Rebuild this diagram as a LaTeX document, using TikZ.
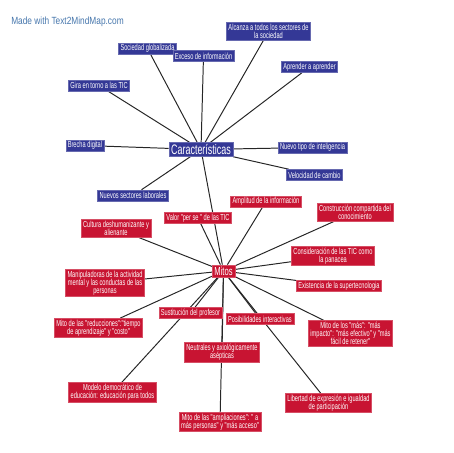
\documentclass[tikz,border=0pt]{standalone}
\usepackage{fontspec}
\usetikzlibrary{backgrounds}
\newfontfamily\mapfont{Liberation Sans}[FakeStretch=0.65]
\newfontfamily\markfont{Liberation Sans}[FakeStretch=0.8]
\newcommand\leaffont{\mapfont\fontsize{6.2}{5.8}\selectfont\lineskiplimit=-5pt}
\definecolor{MB}{RGB}{52,56,150}
\definecolor{MR}{RGB}{200,20,50}
\definecolor{WM}{RGB}{70,118,172}

\begin{document}
\begin{tikzpicture}[x=0.025cm, y=-0.025cm,
  hub/.style={fill=#1, draw=#1!75!white, line width=0.4pt, text=white,
              inner xsep=1.6pt, inner ysep=1.3pt, align=center},
  leaf/.style={fill=#1, draw=#1!75!white, line width=0.4pt, text=white,
               inner xsep=1.4pt, inner ysep=1.1pt, minimum height=7.8pt,
               align=center, font=\leaffont},
  edge/.style={draw=black!85, line width=0.7pt}
]
\useasboundingbox (0,0) rectangle (453,453);

% Watermark
\node[anchor=west, inner sep=0pt, text=WM, font=\markfont\fontsize{7.4}{8}\selectfont]
  (mark) at (11,22) {Made with Text2MindMap.com};

% Hub 1: Caracteristicas
\node[hub=MB, font=\mapfont\fontsize{9.8}{10}\selectfont] (car) at (201,149.5) {Características};
\node[leaf=MB] (soc)    at (147.5,48.5) {Sociedad globalizada};
\node[leaf=MB] (exc)    at (203.5,56)   {Exceso de información};
\node[leaf=MB] (alc)    at (268.5,31.5) {Alcanza a todos los sectores de\\la sociedad};
\node[leaf=MB] (apr)    at (309.5,67)   {Aprender a aprender};
\node[leaf=MB] (gira)   at (99,85.5)    {Gira en torno a las TIC};
\node[leaf=MB] (brecha) at (85,145.5)   {Brecha digital};
\node[leaf=MB] (nsl)    at (133,195.5)  {Nuevos sectores laborales};
\node[leaf=MB] (nti)    at (312.5,147.5){Nuevo tipo de inteligencia};
\node[leaf=MB] (vel)    at (314.5,175)  {Velocidad de cambio};

% Hub 2: Mitos
\node[hub=MR, font=\mapfont\fontsize{8.3}{9}\selectfont] (mit) at (223.5,271) {Mitos};
\node[leaf=MR] (amp)    at (266,201.5)  {Amplitud de la información};
\node[leaf=MR] (cons)   at (355,212)    {Construcción compartida del\\conocimiento};
\node[leaf=MR] (valor)  at (198,218)    {Valor "per se " de las TIC};
\node[leaf=MR] (cult)   at (116,228.5)  {Cultura deshumanizante y\\alienante};
\node[leaf=MR] (consid) at (333,256)    {Consideración de las TIC como\\la panacea};
\node[leaf=MR] (exist)  at (339,286)    {Existencia de la supertecnologia};
\node[leaf=MR] (manip)  at (105,283)    {Manipuladoras de la actividad\\mental y las conductas de las\\personas};
\node[leaf=MR] (sust)   at (190.5,313)  {Sustitución del profesor};
\node[leaf=MR] (posib)  at (260,319)    {Posibilidades interactivas};
\node[leaf=MR] (reduc)  at (98.5,328)   {Mito de las "reducciones":"tiempo\\de aprendizaje" y "costo"};
\node[leaf=MR] (mas)    at (350.5,333.5){Mito de los "más": "más\\impacto": "más efectivo" y "más\\fácil de retener"};
\node[leaf=MR] (neut)   at (222,352.5)  {Neutrales y axiológicamente\\asépticas};
\node[leaf=MR] (modelo) at (112.5,392.5){Modelo democrático de\\educación: educación para todos};
\node[leaf=MR] (libert) at (328.5,403)  {Libertad de expresión e igualdad\\de participación};
\node[leaf=MR] (ampl)   at (220,422)    {Mito de las "ampliaciones": " a\\más personas" y "más acceso"};

% Connectors
\begin{scope}[on background layer]
\foreach \n in {soc,exc,alc,apr,gira,brecha,nsl,nti,vel,mit} \draw[edge] (car)--(\n);
\foreach \n in {amp,cons,valor,cult,consid,exist,manip,sust,posib,reduc,mas,neut,modelo,libert,ampl}
  \draw[edge] (mit)--(\n);
\end{scope}
\end{tikzpicture}
\end{document}
